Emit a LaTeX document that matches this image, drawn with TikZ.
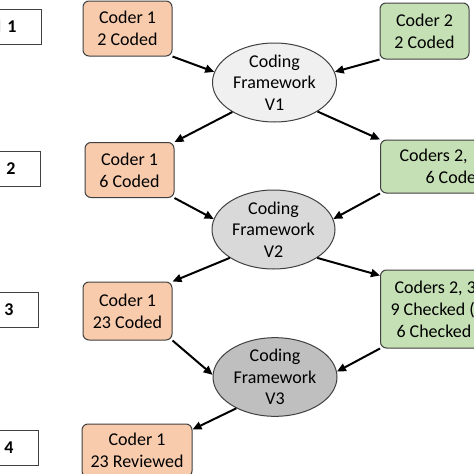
\documentclass[tikz,border=0pt]{standalone}
\usepackage{fontspec}
\setmainfont{Carlito}
\usetikzlibrary{shapes.geometric,arrows.meta}
\definecolor{coderorange}{HTML}{F8CBAD}
\definecolor{codergreen}{HTML}{C5E0B4}
\definecolor{fwlight}{HTML}{F0F0F0}
\definecolor{fwmid}{HTML}{D9D9D9}
\definecolor{fwdark}{HTML}{BFBFBF}
\definecolor{edgegray}{HTML}{404040}
\tikzset{
  coderbox/.style={draw=edgegray, line width=1pt, rounded corners=6pt, inner sep=0pt,
    font=\fontsize{18}{22}\selectfont},
  orangebox/.style={coderbox, fill=coderorange, align=center, minimum width=89pt, minimum height=55pt},
  greenbox/.style={coderbox, fill=codergreen},
  framework/.style={ellipse, draw=edgegray, line width=1pt, minimum width=124pt, minimum height=79pt,
    inner sep=0pt, align=center, font=\fontsize{18}{21.5}\selectfont},
  roundbox/.style={draw=edgegray, line width=1pt, fill=white, minimum height=35pt, anchor=east,
    text width=60pt, align=right, inner ysep=0pt, inner xsep=25pt, font=\bfseries\fontsize{18}{22}\selectfont},
  flow/.style={-{Triangle[length=9pt,width=8pt]}, line width=2pt}
}
\begin{document}
\begin{tikzpicture}[x=1pt,y=-1pt]
                \useasboundingbox (0,0) rectangle (474,474);
                \clip (0,0) rectangle (474,474);

                % Round labels
                \node[roundbox] (r1) at (42,26.5) {d 1};
                \node[roundbox] (r2) at (41,168.5) {d 2};
                \node[roundbox] (r3) at (39,309.5) {3};
                \node[roundbox] (r4) at (39,447.5) {4};

                % Coder 1 boxes
                \node[orangebox] (o1) at (127.5,28.5) {Coder 1\\2 Coded};
                \node[orangebox] (o2) at (129.5,170) {Coder 1\\6 Coded};
                \node[orangebox, minimum height=58pt] (o3) at (127.5,311) {Coder 1\\23 Coded};
                \node[orangebox, minimum width=110pt, minimum height=53pt] (o4) at (137,450.5) {Coder 1\\23 Reviewed};

                % Other coders
                \node[greenbox, align=center, minimum width=89pt, minimum height=56pt] (g1) at (424.5,31) {Coder 2\\2 Coded};
                \node[greenbox, anchor=west, align=left, minimum height=53pt, inner xsep=19pt] (g2) at (380,166.5)
                  {Coders 2,\\\hspace*{26pt}6 Coded};
                \node[greenbox, anchor=west, align=left, minimum height=78pt, inner xsep=10pt] (g3) at (380,309)
                  {\hspace*{4pt}Coders 2, 3\\9 Checked (\\\hspace*{6pt}6 Checked};

                % Framework versions
                \node[framework, fill=fwlight] (fw1) at (274.5,82.5) {Coding\\Framework\\V1};
                \node[framework, fill=fwmid, minimum width=123pt] (fw2) at (273.5,229.5) {Coding\\Framework\\V2};
                \node[framework, fill=fwdark, minimum height=78pt] (fw3) at (275,377) {Coding\\Framework\\V3};

                % Flow of coding
                \draw[flow] (o1.south east) -- (fw1.170);
                \draw[flow] (g1.south west) -- (fw1.10);
                \draw[flow] (fw1.215) -- (o2.north east);
                \draw[flow] (fw1.326) -- (g2.north west);
                \draw[flow] (o2.south east) -- (fw2.170);
                \draw[flow] (g2.south west) -- (fw2.10);
                \draw[flow] (fw2.213) -- (o3.north east);
                \draw[flow] (fw2.327) -- ([yshift=-6pt]g3.north west);
                \draw[flow] (o3.south east) -- (fw3.178);
                \draw[flow] (g3.south west) -- (fw3.5);
                \draw[flow] (fw3.219) -- ([yshift=-6pt]o4.north east);
\end{tikzpicture}
\end{document}
